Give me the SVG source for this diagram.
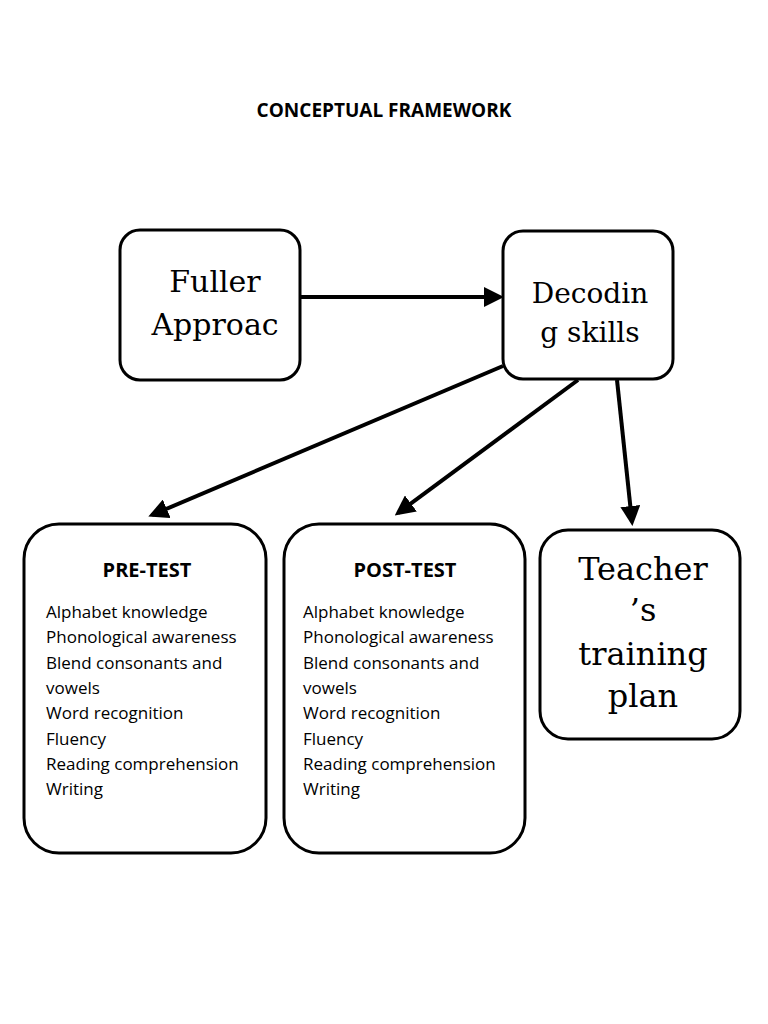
<svg xmlns="http://www.w3.org/2000/svg" width="768" height="1024" viewBox="0 0 768 1024">
<style>
.box{fill:#fff;stroke:#000;stroke-width:3}
.ser{font-family:"DejaVu Serif",serif;fill:#000;text-anchor:middle}
.san{font-family:"Open Sans","Liberation Sans",sans-serif;fill:#000;font-size:17px}
.hd{font-family:"Open Sans","Liberation Sans",sans-serif;font-weight:bold;font-size:20px;text-anchor:middle}
.ln{stroke:#000;stroke-width:4;fill:none}
</style>
<defs>
<marker id="a" markerWidth="5" markerHeight="5" refX="4" refY="2.5" orient="auto" markerUnits="strokeWidth"><path d="M0,0L5,2.5L0,5z" fill="#000"/></marker>
<clipPath id="c"><rect x="120" y="230" width="180" height="126"/></clipPath>
</defs>
<rect width="768" height="1024" fill="#fff"/>
<text x="384" y="117" class="hd" style="font-size:19px">CONCEPTUAL FRAMEWORK</text>
<g id="fuller"><rect class="box" x="120" y="230" width="180" height="150" rx="20"/>
<g clip-path="url(#c)" class="ser" style="font-size:30px"><text x="215" y="292">Fuller</text><text x="215" y="335">Approac</text><text x="215" y="378">h</text></g></g>
<g id="decoding"><rect class="box" x="503" y="231" width="170" height="148" rx="20"/>
<text class="ser" style="font-size:28px" x="590" y="303">Decodin</text><text class="ser" style="font-size:28px" x="590" y="342">g skills</text></g>
<g id="pretest"><rect class="box" x="24" y="524" width="242" height="329" rx="35"/>
<text class="hd" x="147" y="577">PRE-TEST</text>
<g class="san"><text x="46" y="618">Alphabet knowledge</text><text x="46" y="643">Phonological awareness</text><text x="46" y="669">Blend consonants and</text><text x="46" y="694">vowels</text><text x="46" y="719">Word recognition</text><text x="46" y="745">Fluency</text><text x="46" y="770">Reading comprehension</text><text x="46" y="795">Writing</text></g></g>
<g id="posttest"><rect class="box" x="284" y="524" width="241" height="329" rx="35"/>
<text class="hd" x="405" y="577">POST-TEST</text>
<g class="san"><text x="303" y="618">Alphabet knowledge</text><text x="303" y="643">Phonological awareness</text><text x="303" y="669">Blend consonants and</text><text x="303" y="694">vowels</text><text x="303" y="719">Word recognition</text><text x="303" y="745">Fluency</text><text x="303" y="770">Reading comprehension</text><text x="303" y="795">Writing</text></g></g>
<g id="teacher"><rect class="box" x="540" y="530" width="200" height="209" rx="28"/>
<g class="ser" style="font-size:32px"><text x="643" y="580">Teacher</text><text x="643" y="621">’s</text><text x="643" y="665">training</text><text x="643" y="707">plan</text></g></g>
<g id="connectors">
<line class="ln" x1="300" y1="297" x2="500" y2="297" marker-end="url(#a)"/>
<line class="ln" x1="503" y1="366" x2="152" y2="515" marker-end="url(#a)"/>
<line class="ln" x1="578" y1="380" x2="398" y2="513" marker-end="url(#a)"/>
<line class="ln" x1="617" y1="380" x2="632" y2="522" marker-end="url(#a)"/>
</g>
</svg>
